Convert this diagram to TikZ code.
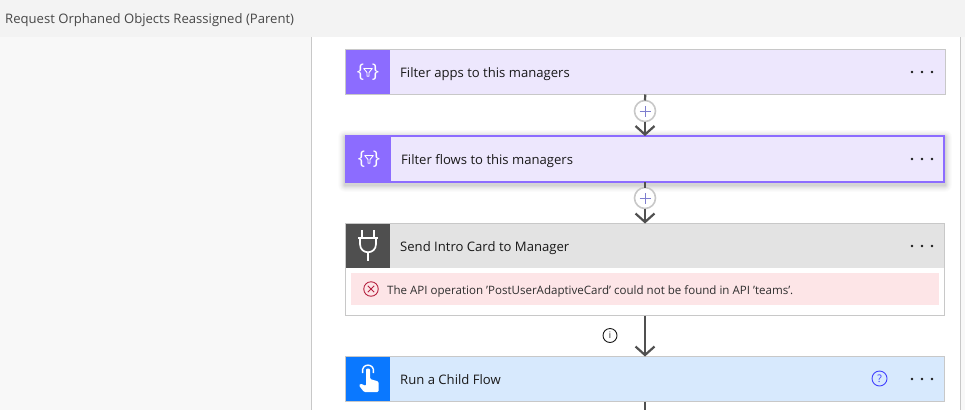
\documentclass[tikz,border=0pt]{standalone}
\usepackage{fontspec}
\setmainfont{Open Sans}
\usetikzlibrary{arrows.meta}
\definecolor{pagebg}{HTML}{F8F8F8}
\definecolor{headbg}{HTML}{F3F3F3}
\definecolor{edgegray}{HTML}{C8C8C8}
\definecolor{filterbg}{HTML}{EDE7FD}
\definecolor{filteric}{HTML}{8C6CFF}
\definecolor{plugbg}{HTML}{E3E3E3}
\definecolor{plugic}{HTML}{4F4F4F}
\definecolor{childbg}{HTML}{D7E9FD}
\definecolor{childic}{HTML}{0A78FF}
\definecolor{errbg}{HTML}{FDE5E7}
\definecolor{errred}{HTML}{B5213F}
\definecolor{wire}{HTML}{505050}
\tikzset{
  x=1pt,y=-1pt,
  card/.style={draw=edgegray,line width=1pt,minimum width=599.5pt,inner sep=0pt,outer sep=0pt,rectangle},
  iconbox/.style={inner sep=0pt,outer sep=0pt,minimum width=44pt,rectangle},
  cardtext/.style={inner sep=0pt,anchor=base west,text=black!90,font=\fontsize{13.1}{15}\selectfont},
  more/.style={inner sep=0pt,circle,fill=black!90,minimum size=2.8pt},
  plusbtn/.style={circle,draw=edgegray,line width=1.6pt,fill=white,minimum size=21pt,inner sep=0pt,outer sep=0pt},
  wirearrow/.style={draw=wire,line width=2.2pt,-{Straight Barb[length=8.5pt,width=19pt,line width=2.2pt]}},
  wireline/.style={draw=wire,line width=2.2pt},
  glyph/.style={text=white,inner sep=0pt,font=\fontsize{19}{19}\selectfont}
}
\begin{document}
\begin{tikzpicture}
\useasboundingbox (0,0) rectangle (965,410);
\fill[white] (0,0) rectangle (965,410);
\fill[pagebg] (0,37) rectangle (311,410);
\fill[pagebg] (961,37) rectangle (965,410);
\fill[headbg] (0,0) rectangle (965,37);
\fill[edgegray] (311,37) rectangle (312,410);
\fill[edgegray] (960,37) rectangle (961,410);
\node[inner sep=0pt,anchor=base west,text=black!72,font=\fontsize{13.1}{15}\selectfont] (title) at (5,23) {Request Orphaned Objects Reassigned (Parent)};

% card shadow
\foreach \s/\o in {7/.012,6/.014,5/.018,4/.022,3/.028,2/.034,1/.04}{
  \fill[black,opacity=\o,rounded corners=\s pt] (345-\s,135-\s+2) rectangle (945+\s,183+\s+2);
}

% cards
\node[card,fill=filterbg,minimum height=45pt] (c1) at (645.25,72) {};
\node[iconbox,fill=filteric,minimum height=44pt,anchor=west] (i1) at (346,72) {};
\node[cardtext] (t1) at (400,77) {Filter apps to this managers};

\node[card,draw=filteric,line width=2pt,fill=filterbg,minimum height=46pt,minimum width=598pt] (c2) at (645,159) {};
\node[iconbox,fill=filteric,minimum height=47pt,minimum width=46pt,anchor=west] (i2) at (345,159) {};
\node[cardtext] (t2) at (401,164) {Filter flows to this managers};

\node[card,fill=white,minimum height=92pt] (c3) at (645,269.5) {};
\fill[plugbg] (346,224) rectangle (944,268);
\node[iconbox,fill=plugic,minimum height=44pt,anchor=west] (i3) at (346,246) {};
\node[cardtext] (t3) at (400,251) {Send Intro Card to Manager};
\node[inner sep=0pt,outer sep=0pt,minimum width=588pt,minimum height=32pt,fill=errbg] (err) at (645,289) {};
\node[inner sep=0pt,anchor=base west,text=black!82,font=\fontsize{11.55}{14}\selectfont] (errt) at (387,294) {The API operation 'PostUserAdaptiveCard' could not be found in API 'teams'.};
\node[circle,draw=errred,line width=.9pt,minimum size=14.5pt,inner sep=0pt] (erri) at (371,289) {};
\draw[errred,line width=.9pt] (367.8,285.8) -- (374.2,292.2) (374.2,285.8) -- (367.8,292.2);

\node[card,fill=childbg,minimum height=45pt] (c4) at (645,379) {};
\node[iconbox,fill=childic,minimum height=44pt,anchor=west] (i4) at (346,379) {};
\node[cardtext] (t4) at (400,384) {Run a Child Flow};

% more-menu dots
\foreach \yy/\nn in {72/a,159/b,246/c,379/d}{
  \node[more] (m1\nn) at (912,\yy) {};
  \node[more] (m2\nn) at (922,\yy) {};
  \node[more] (m3\nn) at (932,\yy) {};
}

% help icon
\node[circle,draw=blue!75!white,line width=.9pt,minimum size=15pt,inner sep=0pt,text=blue!75!white,font=\fontsize{10.5}{11}\selectfont] (help) at (879.5,378.5) {?};

% filter icons
\foreach \cx/\cy/\nn in {368/72/a,369/159/b}{
  \node[glyph] (bl\nn) at (\cx-7.5,\cy) {\{};
  \node[glyph] (br\nn) at (\cx+7.5,\cy) {\}};
  \draw[white,line width=.9pt,line join=round] (\cx-4.3,\cy-3.5) -- (\cx+4.3,\cy-3.5) -- (\cx+1,\cy+.5) -- (\cx+1,\cy+4.2) -- (\cx-1,\cy+4.2) -- (\cx-1,\cy+.5) -- cycle;
}

% plug icon
\draw[white,line width=1.7pt] (362,230) -- (362,238) (374,230) -- (374,238) (358,238) -- (378,238);
\draw[white,line width=1.7pt] (360,238) -- (360,244) .. controls (360,255) and (376,255) .. (376,244) -- (376,238);
\draw[white,line width=1.7pt] (368,252) -- (368,261);

% touch icon
\draw[white,line width=1.4pt] (362.6,373) .. controls (360.5,362.5) and (375.5,362.5) .. (373.4,373);
\fill[white,rounded corners=1.2pt] (366,368.5) -- (370,368.5) -- (370,379) -- (378.5,381.5) -- (378.5,392) -- (364,392) -- (359,385.5) -- (360.5,383.5) -- (366,386) -- cycle;

% connectors
\node[plusbtn] (p1) at (645,111) {};
\node[plusbtn] (p2) at (645,198) {};
\foreach \pp in {p1,p2}{
  \draw[blue!45!gray!70,line width=1pt] ([xshift=-5.5pt]\pp.center) -- ([xshift=5.5pt]\pp.center) ([yshift=-5.5pt]\pp.center) -- ([yshift=5.5pt]\pp.center);
}
\draw[wireline] (c1.south) -- (p1.north);
\draw[wirearrow] (p1.south) -- (c2.north);
\draw[wireline] (c2.south) -- (p2.north);
\draw[wirearrow] (p2.south) -- (c3.north);
\draw[wirearrow] (c3.south) -- (c4.north);
\coordinate (below) at (645,410);
\draw[wireline] (c4.south) -- (below);

% info icon
\node[circle,draw=black!90,line width=.9pt,minimum size=14pt,inner sep=0pt,text=black!90,font=\fontsize{9}{10}\selectfont] (info) at (610,335.5) {i};
\end{tikzpicture}
\end{document}
